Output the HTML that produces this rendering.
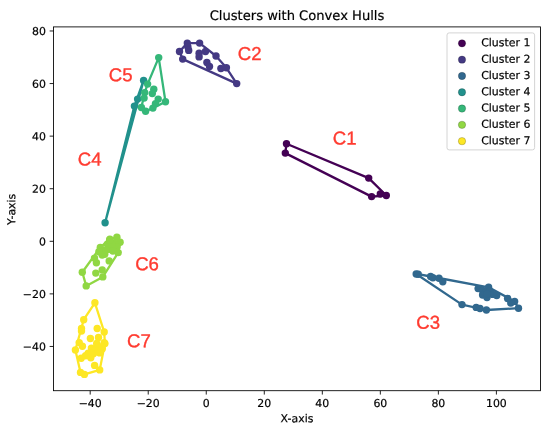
<!DOCTYPE html>
<html lang="en"><head><meta charset="utf-8"><title>Clusters with Convex Hulls</title>
<style>html,body{margin:0;padding:0;background:#fff;}body{width:550px;height:429px;overflow:hidden;}svg{display:block;}.t{font-family:"DejaVu Sans","Liberation Sans",sans-serif;fill:#000;stroke:#000;stroke-width:0.2px;}.c{font-family:"Liberation Sans",Helvetica,Arial,sans-serif;fill:#ff3b30;}</style></head><body>
<svg width="550" height="429" viewBox="0 0 550 429">
<rect width="550" height="429" fill="#fff"/>
<g fill="#440154" stroke="none">
<path d="M285.3,153.1 L286.5,143.7 L368.7,178.1 L386.3,195.5 L371.6,196.6 Z" fill="none" stroke="#440154" stroke-width="2.3" stroke-linejoin="round" stroke-linecap="round"/>
<circle cx="286.5" cy="143.7" r="3.7"/>
<circle cx="285.3" cy="153.1" r="3.7"/>
<circle cx="368.7" cy="178.1" r="3.7"/>
<circle cx="371.6" cy="196.6" r="3.7"/>
<circle cx="380.3" cy="194.0" r="3.7"/>
<circle cx="386.3" cy="195.5" r="3.7"/>
</g>
<g fill="#443983" stroke="none">
<path d="M179.5,51.5 L187.3,43.1 L199.6,43.1 L216.0,56.0 L226.4,67.8 L236.7,83.6 L182.7,59.1 Z" fill="none" stroke="#443983" stroke-width="2.3" stroke-linejoin="round" stroke-linecap="round"/>
<circle cx="187.3" cy="43.1" r="3.7"/>
<circle cx="187.9" cy="47.0" r="3.7"/>
<circle cx="199.6" cy="43.1" r="3.7"/>
<circle cx="179.5" cy="51.5" r="3.7"/>
<circle cx="188.7" cy="50.4" r="3.7"/>
<circle cx="182.7" cy="59.1" r="3.7"/>
<circle cx="199.1" cy="53.3" r="3.7"/>
<circle cx="205.5" cy="51.5" r="3.7"/>
<circle cx="199.1" cy="56.9" r="3.7"/>
<circle cx="216.0" cy="56.0" r="3.7"/>
<circle cx="206.9" cy="62.4" r="3.7"/>
<circle cx="209.5" cy="66.4" r="3.7"/>
<circle cx="220.9" cy="68.5" r="3.7"/>
<circle cx="226.4" cy="67.8" r="3.7"/>
<circle cx="236.7" cy="83.6" r="3.7"/>
</g>
<g fill="#31688e" stroke="none">
<path d="M518.5,308.2 L486.4,310.0 L462.0,304.6 L416.2,274.0 L418.2,274.2 L430.6,276.5 L488.6,287.3 L514.6,301.4 Z" fill="none" stroke="#31688e" stroke-width="2.3" stroke-linejoin="round" stroke-linecap="round"/>
<circle cx="416.2" cy="274.0" r="3.7"/>
<circle cx="418.2" cy="274.2" r="3.7"/>
<circle cx="430.6" cy="276.5" r="3.7"/>
<circle cx="432.9" cy="277.8" r="3.7"/>
<circle cx="439.0" cy="278.3" r="3.7"/>
<circle cx="442.8" cy="281.7" r="3.7"/>
<circle cx="462.0" cy="304.6" r="3.7"/>
<circle cx="476.2" cy="307.4" r="3.7"/>
<circle cx="480.0" cy="308.5" r="3.7"/>
<circle cx="486.4" cy="310.0" r="3.7"/>
<circle cx="518.5" cy="308.2" r="3.7"/>
<circle cx="514.6" cy="301.4" r="3.7"/>
<circle cx="510.8" cy="303.1" r="3.7"/>
<circle cx="507.6" cy="298.5" r="3.7"/>
<circle cx="478.1" cy="288.6" r="3.7"/>
<circle cx="488.6" cy="287.3" r="3.7"/>
<circle cx="482.6" cy="290.5" r="3.7"/>
<circle cx="485.8" cy="292.4" r="3.7"/>
<circle cx="489.6" cy="291.2" r="3.7"/>
<circle cx="482.6" cy="295.0" r="3.7"/>
<circle cx="487.0" cy="297.6" r="3.7"/>
<circle cx="492.8" cy="294.4" r="3.7"/>
<circle cx="496.7" cy="295.6" r="3.7"/>
<circle cx="487.0" cy="293.7" r="3.7"/>
</g>
<g fill="#21918c" stroke="none">
<path d="M143.6,80.4 L105.1,222.7 L134.4,106.1 Z" fill="none" stroke="#21918c" stroke-width="2.3" stroke-linejoin="round" stroke-linecap="round"/>
<circle cx="143.6" cy="80.4" r="3.7"/>
<circle cx="137.6" cy="99.1" r="3.7"/>
<circle cx="134.4" cy="106.1" r="3.7"/>
<circle cx="105.1" cy="222.7" r="3.7"/>
</g>
<g fill="#35b779" stroke="none">
<path d="M158.7,57.6 L165.5,101.8 L152.9,108.1 L145.6,111.2 L141.4,107.5 L144.7,92.6 L147.6,84.1 Z" fill="none" stroke="#35b779" stroke-width="2.3" stroke-linejoin="round" stroke-linecap="round"/>
<circle cx="158.7" cy="57.6" r="3.7"/>
<circle cx="147.6" cy="84.1" r="3.7"/>
<circle cx="153.8" cy="89.3" r="3.7"/>
<circle cx="152.3" cy="93.6" r="3.7"/>
<circle cx="144.7" cy="92.6" r="3.7"/>
<circle cx="144.1" cy="98.1" r="3.7"/>
<circle cx="158.2" cy="99.1" r="3.7"/>
<circle cx="165.5" cy="101.8" r="3.7"/>
<circle cx="155.5" cy="103.6" r="3.7"/>
<circle cx="152.9" cy="108.1" r="3.7"/>
<circle cx="145.6" cy="111.2" r="3.7"/>
<circle cx="141.4" cy="107.5" r="3.7"/>
</g>
<g fill="#90d743" stroke="none">
<path d="M86.2,285.9 L82.3,272.2 L100.3,247.4 L109.9,239.1 L116.9,237.2 L120.1,242.3 L118.2,252.6 L102.8,276.9 Z" fill="none" stroke="#90d743" stroke-width="2.3" stroke-linejoin="round" stroke-linecap="round"/>
<circle cx="116.9" cy="237.2" r="3.7"/>
<circle cx="109.9" cy="239.1" r="3.7"/>
<circle cx="120.1" cy="242.3" r="3.7"/>
<circle cx="113.7" cy="243.0" r="3.7"/>
<circle cx="107.3" cy="244.2" r="3.7"/>
<circle cx="100.3" cy="247.4" r="3.7"/>
<circle cx="103.5" cy="250.6" r="3.7"/>
<circle cx="111.2" cy="249.4" r="3.7"/>
<circle cx="118.2" cy="252.6" r="3.7"/>
<circle cx="102.2" cy="255.1" r="3.7"/>
<circle cx="94.5" cy="258.1" r="3.7"/>
<circle cx="96.4" cy="262.8" r="3.7"/>
<circle cx="109.2" cy="260.9" r="3.7"/>
<circle cx="82.3" cy="272.2" r="3.7"/>
<circle cx="95.8" cy="273.1" r="3.7"/>
<circle cx="102.2" cy="269.9" r="3.7"/>
<circle cx="102.8" cy="276.9" r="3.7"/>
<circle cx="86.2" cy="285.9" r="3.7"/>
<circle cx="117.0" cy="246.9" r="3.7"/>
<circle cx="112.0" cy="244.4" r="3.7"/>
<circle cx="106.3" cy="250.1" r="3.7"/>
<circle cx="112.9" cy="251.0" r="3.7"/>
<circle cx="98.9" cy="251.8" r="3.7"/>
<circle cx="109.6" cy="240.3" r="3.7"/>
<circle cx="104.7" cy="254.2" r="3.7"/>
</g>
<g fill="#fde725" stroke="none">
<path d="M75.4,350.0 L83.7,319.7 L94.9,302.8 L104.2,332.0 L104.9,343.6 L99.7,369.9 L84.4,374.4 L80.5,372.4 Z" fill="none" stroke="#fde725" stroke-width="2.3" stroke-linejoin="round" stroke-linecap="round"/>
<circle cx="94.9" cy="302.8" r="3.7"/>
<circle cx="83.7" cy="319.7" r="3.7"/>
<circle cx="81.5" cy="328.5" r="3.7"/>
<circle cx="81.5" cy="331.0" r="3.7"/>
<circle cx="97.2" cy="328.5" r="3.7"/>
<circle cx="104.2" cy="332.0" r="3.7"/>
<circle cx="90.4" cy="338.5" r="3.7"/>
<circle cx="98.5" cy="337.4" r="3.7"/>
<circle cx="79.2" cy="342.6" r="3.7"/>
<circle cx="104.2" cy="342.6" r="3.7"/>
<circle cx="82.4" cy="346.2" r="3.7"/>
<circle cx="75.4" cy="350.0" r="3.7"/>
<circle cx="104.9" cy="343.6" r="3.7"/>
<circle cx="102.3" cy="348.7" r="3.7"/>
<circle cx="97.2" cy="346.2" r="3.7"/>
<circle cx="91.4" cy="348.1" r="3.7"/>
<circle cx="88.2" cy="353.2" r="3.7"/>
<circle cx="93.3" cy="353.8" r="3.7"/>
<circle cx="97.2" cy="351.9" r="3.7"/>
<circle cx="81.2" cy="358.3" r="3.7"/>
<circle cx="85.6" cy="355.8" r="3.7"/>
<circle cx="90.8" cy="357.7" r="3.7"/>
<circle cx="94.6" cy="365.4" r="3.7"/>
<circle cx="99.7" cy="369.9" r="3.7"/>
<circle cx="80.5" cy="372.4" r="3.7"/>
<circle cx="84.4" cy="374.4" r="3.7"/>
<circle cx="95.6" cy="348.7" r="3.7"/>
<circle cx="99.8" cy="352.9" r="3.7"/>
<circle cx="91.4" cy="352.9" r="3.7"/>
<circle cx="96.7" cy="343.5" r="3.7"/>
<circle cx="101.9" cy="346.6" r="3.7"/>
</g>
<rect x="53.5" y="26.9" width="487.0" height="363.8" fill="none" stroke="#000" stroke-width="0.87"/>
<g stroke="#000" stroke-width="0.87">
<line x1="90.20" y1="390.7" x2="90.20" y2="394.55"/>
<line x1="148.23" y1="390.7" x2="148.23" y2="394.55"/>
<line x1="206.26" y1="390.7" x2="206.26" y2="394.55"/>
<line x1="264.29" y1="390.7" x2="264.29" y2="394.55"/>
<line x1="322.32" y1="390.7" x2="322.32" y2="394.55"/>
<line x1="380.34" y1="390.7" x2="380.34" y2="394.55"/>
<line x1="438.37" y1="390.7" x2="438.37" y2="394.55"/>
<line x1="496.40" y1="390.7" x2="496.40" y2="394.55"/>
<line x1="53.5" y1="346.46" x2="49.65" y2="346.46"/>
<line x1="53.5" y1="293.88" x2="49.65" y2="293.88"/>
<line x1="53.5" y1="241.30" x2="49.65" y2="241.30"/>
<line x1="53.5" y1="188.72" x2="49.65" y2="188.72"/>
<line x1="53.5" y1="136.14" x2="49.65" y2="136.14"/>
<line x1="53.5" y1="83.56" x2="49.65" y2="83.56"/>
<line x1="53.5" y1="30.98" x2="49.65" y2="30.98"/>
</g>
<g class="t" font-size="10.93">
<text x="90.20" y="407.05" text-anchor="middle" transform="rotate(0.03 90.20 407.05)">−40</text>
<text x="148.23" y="407.05" text-anchor="middle" transform="rotate(0.03 148.23 407.05)">−20</text>
<text x="206.26" y="407.05" text-anchor="middle" transform="rotate(0.03 206.26 407.05)">0</text>
<text x="264.29" y="407.05" text-anchor="middle" transform="rotate(0.03 264.29 407.05)">20</text>
<text x="322.32" y="407.05" text-anchor="middle" transform="rotate(0.03 322.32 407.05)">40</text>
<text x="380.34" y="407.05" text-anchor="middle" transform="rotate(0.03 380.34 407.05)">60</text>
<text x="438.37" y="407.05" text-anchor="middle" transform="rotate(0.03 438.37 407.05)">80</text>
<text x="496.40" y="407.05" text-anchor="middle" transform="rotate(0.03 496.40 407.05)">100</text>
<text x="45.85" y="350.56" text-anchor="end" transform="rotate(0.03 45.85 350.56)">−40</text>
<text x="45.85" y="297.98" text-anchor="end" transform="rotate(0.03 45.85 297.98)">−20</text>
<text x="45.85" y="245.40" text-anchor="end" transform="rotate(0.03 45.85 245.40)">0</text>
<text x="45.85" y="192.82" text-anchor="end" transform="rotate(0.03 45.85 192.82)">20</text>
<text x="45.85" y="140.24" text-anchor="end" transform="rotate(0.03 45.85 140.24)">40</text>
<text x="45.85" y="87.66" text-anchor="end" transform="rotate(0.03 45.85 87.66)">60</text>
<text x="45.85" y="35.08" text-anchor="end" transform="rotate(0.03 45.85 35.08)">80</text>
<text x="297.00" y="422.30" text-anchor="middle" transform="rotate(0.03 297.00 422.30)">X-axis</text>
<text transform="translate(15.3,209.30) rotate(-90.03)" text-anchor="middle">Y-axis</text>
</g>
<text x="297.00" y="20.00" text-anchor="middle" transform="rotate(0.03 297.00 20.00)" class="t" font-size="13.1">Clusters with Convex Hulls</text>
<rect x="447" y="32.9" width="87.6" height="117" rx="2.2" ry="2.2" fill="#fff" fill-opacity="0.8" stroke="#ccc" stroke-opacity="0.95" stroke-width="0.9"/>
<g class="t" font-size="10.93">
<circle cx="462" cy="43.35" r="3.7" fill="#440154"/>
<text x="481.20" y="46.35" transform="rotate(0.03 481.20 46.35)">Cluster 1</text>
<circle cx="462" cy="59.65" r="3.7" fill="#443983"/>
<text x="481.20" y="62.65" transform="rotate(0.03 481.20 62.65)">Cluster 2</text>
<circle cx="462" cy="75.95" r="3.7" fill="#31688e"/>
<text x="481.20" y="78.95" transform="rotate(0.03 481.20 78.95)">Cluster 3</text>
<circle cx="462" cy="92.25" r="3.7" fill="#21918c"/>
<text x="481.20" y="95.25" transform="rotate(0.03 481.20 95.25)">Cluster 4</text>
<circle cx="462" cy="108.55" r="3.7" fill="#35b779"/>
<text x="481.20" y="111.55" transform="rotate(0.03 481.20 111.55)">Cluster 5</text>
<circle cx="462" cy="124.85" r="3.7" fill="#90d743"/>
<text x="481.20" y="127.85" transform="rotate(0.03 481.20 127.85)">Cluster 6</text>
<circle cx="462" cy="141.15" r="3.7" fill="#fde725"/>
<text x="481.20" y="144.15" transform="rotate(0.03 481.20 144.15)">Cluster 7</text>
</g>
<g class="c" font-size="18.6" stroke="#ff3b30" stroke-width="0.35">
<text x="332.85" y="144.45" transform="rotate(0.03 332.85 144.45)">C1</text>
<text x="237.75" y="59.95" transform="rotate(0.03 237.75 59.95)">C2</text>
<text x="416.25" y="328.80" transform="rotate(0.03 416.25 328.80)">C3</text>
<text x="77.85" y="165.60" transform="rotate(0.03 77.85 165.60)">C4</text>
<text x="108.75" y="81.35" transform="rotate(0.03 108.75 81.35)">C5</text>
<text x="135.15" y="270.25" transform="rotate(0.03 135.15 270.25)">C6</text>
<text x="127.05" y="347.20" transform="rotate(0.03 127.05 347.20)">C7</text>
</g>
</svg></body></html>
